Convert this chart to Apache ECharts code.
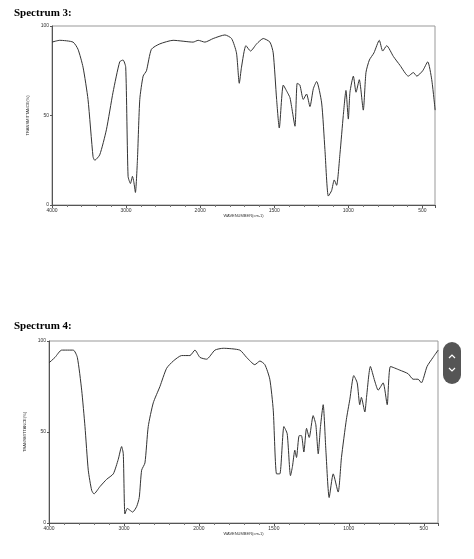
<!DOCTYPE html>
<html><head><meta charset="utf-8">
<script src="https://cdn.jsdelivr.net/npm/echarts@6/dist/echarts.min.js"></script>
<style>html,body{margin:0;padding:0;background:#fff}#c{width:474px;height:559px}</style>
</head><body><div id="c"></div>
<script>
// Spectrum 3
const wn3 = [4000,3896,3716,3649,3581,3514,3446,3423,3356,3266,3176,3086,3041,3005,2973,2941,2914,2896,2874,2847,2815,2770,2725,2658,2545,2365,2095,2027,1968,1912,1833,1788,1755,1736,1721,1691,1660,1619,1574,1529,1507,1484,1466,1439,1412,1394,1383,1360,1345,1327,1304,1282,1259,1236,1214,1180,1158,1135,1113,1095,1079,1056,1034,1016,1000,989,966,948,926,899,881,858,827,791,768,741,696,651,595,561,538,498,464,437,414];
const t3 = [91,92,91,87,77,59,27,25,28,42,63,80,81,77,16,12,16,13,7,25,59,72,75,87,90,92,91,92,91,93,95,93,85,68,77,89,86,90,93,91,85,59,43,67,63,60,55,44,68,67,59,62,55,65,69,57,31,5,8,14,11,29,50,64,48,63,72,63,70,53,74,81,85,92,86,89,83,78,72,74,72,75,80,70,53];
// Spectrum 4
const wn4 = [4000,3920,3831,3676,3622,3564,3520,3476,3431,3400,3320,3231,3142,3076,3031,3009,2987,2956,2920,2884,2831,2796,2764,2720,2676,2609,2520,2431,2342,2231,2120,2053,1993,1949,1893,1838,1727,1682,1627,1593,1560,1527,1504,1482,1460,1433,1411,1389,1376,1360,1349,1331,1316,1300,1282,1264,1238,1220,1204,1189,1171,1153,1131,1104,1071,1049,1016,993,967,944,927,916,893,882,856,827,804,771,744,722,660,604,571,538,516,478,438,404];
const t4 = [88,91,95,95,91,73,53,29,18,16,20,24,27,35,42,38,5,8,7,6,9,14,29,33,53,66,75,85,89,92,92,95,91,90,95,96,95,91,87,89,87,79,62,27,27,53,49,26,31,40,36,48,48,39,52,47,59,54,38,53,65,40,14,27,17,36,57,68,81,77,65,69,61,69,86,78,73,77,65,86,84,82,79,79,77,86,91,95];
const xTicks = [4000,3000,2000,1500,1000,500];
const yTicks = [0,50,100];

// IR chart scale: 1000 cm-1 per unit above 2000, 500 cm-1 per unit below
function pos(w){ return w>=2000 ? (4000-w)/1000 : 2+(2000-w)/500; }
function wnOf(p){ return p<=2 ? 4000-1000*p : 2000-500*(p-2); }

const chart = echarts.init(document.getElementById('c'));
function xAxis(gi,max){ return {type:'value',gridIndex:gi,min:0,max:max,interval:1,
  axisLine:{lineStyle:{color:'#555',width:1}},axisTick:{show:true,length:3,lineStyle:{color:'#555'}},
  minorTick:{show:true,splitNumber:5,length:2,lineStyle:{color:'#777'}},
  splitLine:{show:false},
  axisLabel:{fontSize:5,color:'#333',margin:3,formatter:v=>{const w=Math.round(wnOf(v));return xTicks.includes(w)?String(w):'';}},
  name:'WAVENUMBER(cm-1)',nameLocation:'middle',nameGap:9,nameTextStyle:{fontSize:4,color:'#333'}};}
function yAxis(gi){ return {type:'value',gridIndex:gi,min:0,max:100,interval:50,
  axisLine:{show:true,lineStyle:{color:'#555'}},axisTick:{show:true,length:2,lineStyle:{color:'#555'}},
  splitLine:{show:false},axisLabel:{fontSize:5,color:'#333',margin:3},
  name:'TRANSMITTANCE(%)',nameLocation:'middle',nameGap:16,nameRotate:90,nameTextStyle:{fontSize:4,color:'#333'}};}
chart.setOption({
  animation:false,
  title:[
    {text:'Spectrum 3:',left:9,top:3,textStyle:{fontFamily:'Liberation Serif',fontWeight:'bold',fontSize:11,color:'#000'}},
    {text:'Spectrum 4:',left:9,top:316,textStyle:{fontFamily:'Liberation Serif',fontWeight:'bold',fontSize:11,color:'#000'}}
  ],
  grid:[
    {left:52,top:26,width:383,height:179,show:true,borderColor:'#999',borderWidth:1},
    {left:49,top:341,width:389,height:182,show:true,borderColor:'#999',borderWidth:1}
  ],
  xAxis:[xAxis(0,5.17),xAxis(1,5.19)],
  yAxis:[yAxis(0),yAxis(1)],
  series:[
    {type:'line',xAxisIndex:0,yAxisIndex:0,data:wn3.map((w,i)=>[pos(w),t3[i]]),showSymbol:false,smooth:0.2,lineStyle:{color:'#333',width:1}},
    {type:'line',xAxisIndex:1,yAxisIndex:1,data:wn4.map((w,i)=>[pos(w),t4[i]]),showSymbol:false,smooth:0.2,lineStyle:{color:'#333',width:1}}
  ],
  graphic:[
    {type:'rect',shape:{x:443,y:342,width:18,height:42,r:9},style:{fill:'#555'}},
    {type:'polyline',shape:{points:[[449,358],[452,355],[455,358]]},style:{stroke:'#fff',lineWidth:1.2,fill:null}},
    {type:'polyline',shape:{points:[[449,368],[452,371],[455,368]]},style:{stroke:'#fff',lineWidth:1.2,fill:null}}
  ]
});
</script></body></html>
